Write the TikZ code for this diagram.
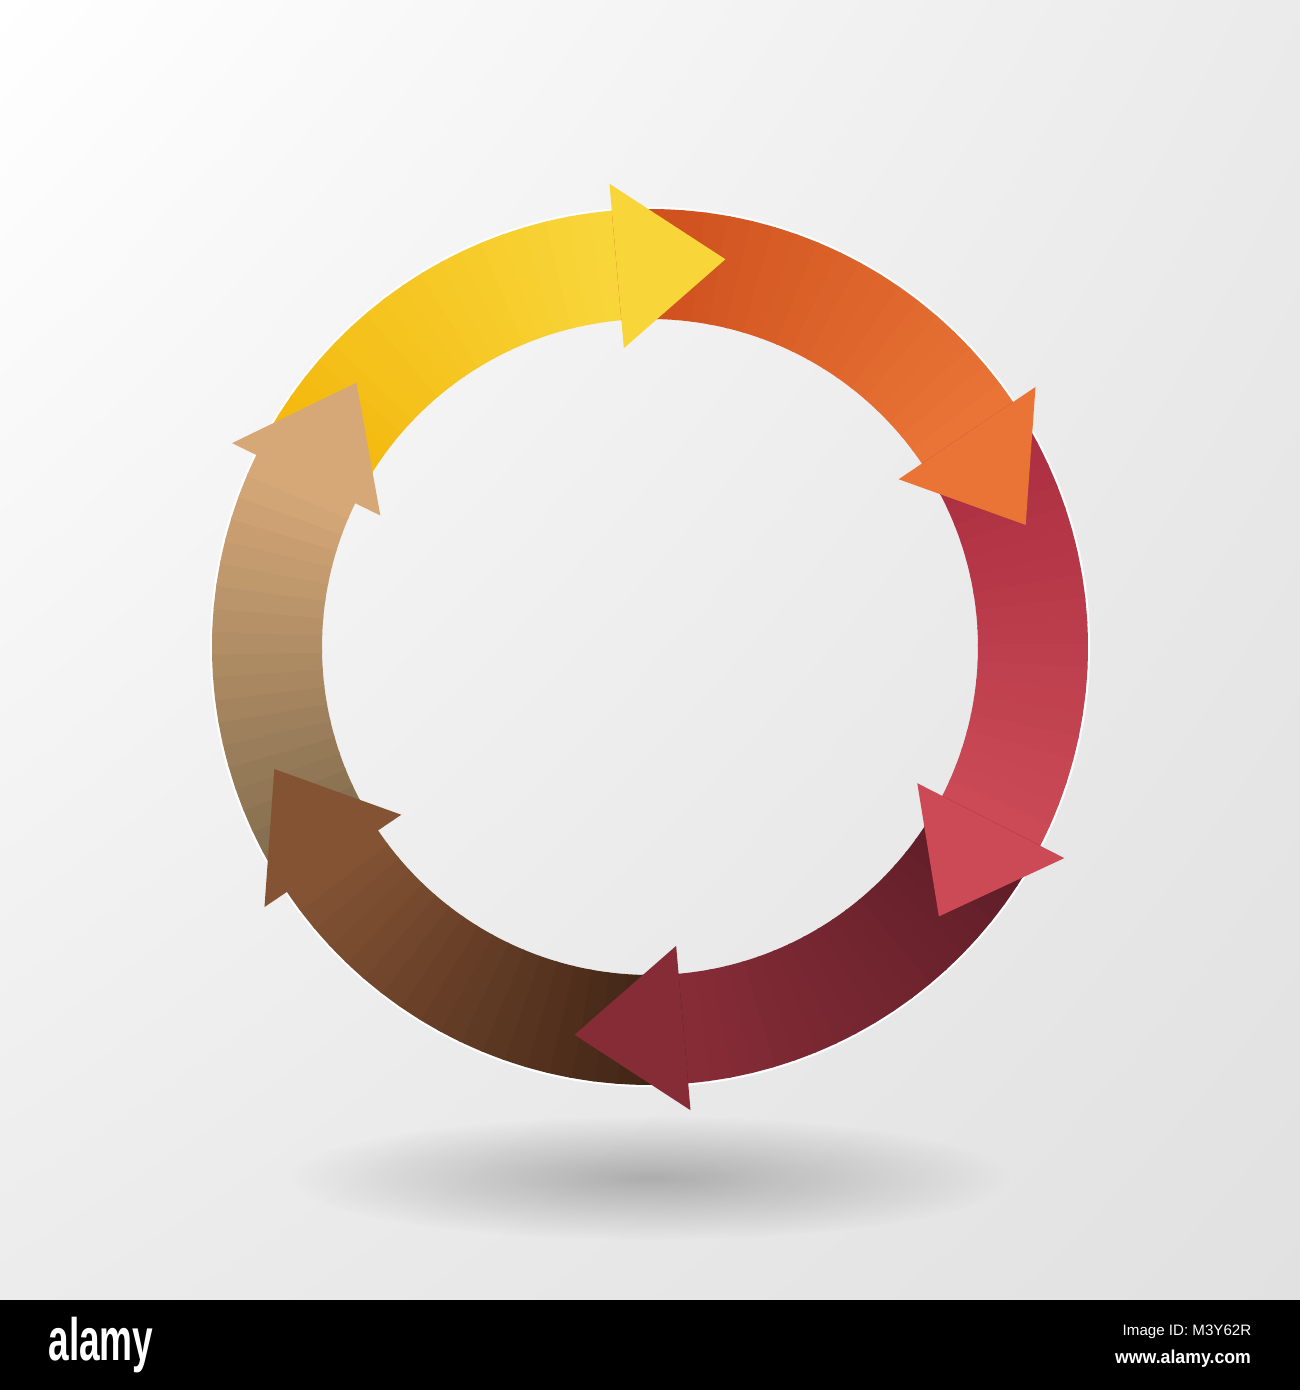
\documentclass[tikz,border=0pt]{standalone}
\usepackage{fontspec}
\setsansfont{Liberation Sans}
\usetikzlibrary{fadings,shadings}

\definecolor{yellowtail}{HTML}{F3B70C}
\definecolor{yellowhead}{HTML}{F8D63A}
\definecolor{orangetail}{HTML}{CC4E1C}
\definecolor{orangehead}{HTML}{E97436}
\definecolor{redtail}{HTML}{AA2E40}
\definecolor{redhead}{HTML}{CB4A56}
\definecolor{maroontail}{HTML}{5E1E28}
\definecolor{maroonhead}{HTML}{862C37}
\definecolor{browntail}{HTML}{3C2214}
\definecolor{brownhead}{HTML}{845334}
\definecolor{tantail}{HTML}{7E6A4C}
\definecolor{tanhead}{HTML}{D6A878}
\tikzfading[name=shadowfade, inner color=transparent!0, outer color=transparent!100]

\begin{document}
\begin{tikzpicture}[x=0.01cm,y=0.01cm]
   \def\rin{328}
   \def\rout{438}
   \tikzstyle{barlogo}=[text=white, font=\sffamily\bfseries\fontsize{17}{17}\selectfont, xscale=0.62, inner sep=0pt]
   \tikzstyle{bartext}=[text=white, font=\sffamily\fontsize{4.3}{4.3}\selectfont, inner sep=0pt]
   \useasboundingbox (-650,-743) rectangle (650,647);
   \shade[upper left=white, upper right=black!8, lower left=black!8, lower right=black!12] (-650,-743) rectangle (650,647);
   % shadow under the ring
   \fill[black!60, path fading=shadowfade, opacity=0.45] (0,-531) ellipse [x radius=360, y radius=62];
   \draw[white, line width=1.2pt] (0,0) circle[radius=\rout];
   % bodies, stepped along the arc
   \foreach \from/\to/\tc/\hc in {154/95/yellowtail/yellowhead, 95/34/orangetail/orangehead, 34/-27/redtail/redhead, -27/-85/maroontail/maroonhead, -85/-146/browntail/brownhead, 214/154/tantail/tanhead} {
      \foreach \k in {0,...,19} {
         \pgfmathsetmacro\pc{100*\k/19}
         \pgfmathsetmacro\aa{\from+(\to-\from)*\k/20}
         \pgfmathsetmacro\ab{\from+(\to-\from)*(\k+1)/20-0.4}
         \colorlet{slice}{\hc!\pc!\tc}
         \fill[slice] (\aa:\rin) arc[start angle=\aa, end angle=\ab, radius=\rin] -- (\ab:\rout) arc[start angle=\ab, end angle=\aa, radius=\rout] -- cycle;
      }
   }
   % heads
   \foreach \base/\hc in {95/yellowhead, 34/orangehead, -27/redhead, -85/maroonhead, -146/brownhead, 154/tanhead}
      \fill[\hc] (\base:300) -- ({\base-16}:395) -- (\base:465) -- cycle;
   % bottom bar
   \fill[black] (-650,-743) rectangle (650,-653);
   \node[barlogo] (logo) at (-549,-698) {alamy};
   \node[bartext] (imageid) at (537,-685) {Image ID: M3Y62R};
   \node[bartext, font=\sffamily\bfseries\fontsize{5.3}{5.3}\selectfont, xscale=0.95] (site) at (533,-712) {www.alamy.com};
\end{tikzpicture}
\end{document}
